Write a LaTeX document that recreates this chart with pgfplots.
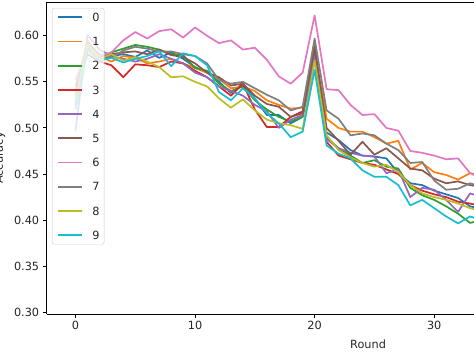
\documentclass[border=0pt]{standalone}
\usepackage{fontspec}
\setmainfont{DejaVu Sans}
\usepackage{pgfplots}
\usepackage{pgfplotstable}
\pgfplotsset{compat=1.18}
\definecolor{c0}{HTML}{1F77B4}
\definecolor{c1}{HTML}{FF7F0E}
\definecolor{c2}{HTML}{2CA02C}
\definecolor{c3}{HTML}{D62728}
\definecolor{c4}{HTML}{9467BD}
\definecolor{c5}{HTML}{8C564B}
\definecolor{c6}{HTML}{E377C2}
\definecolor{c7}{HTML}{7F7F7F}
\definecolor{c8}{HTML}{BCBD22}
\definecolor{c9}{HTML}{17BECF}
\pgfplotstableread{
r  s0    s1    s2    s3    s4    s5    s6    s7    s8    s9
0  0.525 0.540 0.530 0.539 0.497 0.545 0.552 0.535 0.530 0.520
1  0.590 0.595 0.588 0.580 0.601 0.585 0.585 0.592 0.590 0.585
2  0.575 0.578 0.575 0.572 0.585 0.577 0.578 0.580 0.575 0.573
3  0.578 0.572 0.582 0.568 0.578 0.580 0.582 0.576 0.580 0.576
4  0.580 0.578 0.586 0.555 0.575 0.582 0.595 0.584 0.573 0.571
5  0.577 0.576 0.590 0.569 0.572 0.583 0.604 0.588 0.577 0.575
6  0.584 0.570 0.588 0.568 0.575 0.580 0.597 0.586 0.572 0.578
7  0.576 0.572 0.585 0.566 0.580 0.585 0.605 0.583 0.566 0.583
8  0.582 0.575 0.580 0.572 0.575 0.579 0.607 0.583 0.555 0.567
9  0.575 0.570 0.579 0.570 0.570 0.577 0.598 0.580 0.556 0.581
10 0.566 0.565 0.565 0.562 0.560 0.570 0.609 0.578 0.550 0.578
11 0.560 0.560 0.562 0.555 0.555 0.560 0.600 0.570 0.545 0.568
12 0.550 0.553 0.548 0.545 0.545 0.555 0.592 0.552 0.532 0.539
13 0.538 0.543 0.540 0.535 0.540 0.546 0.595 0.548 0.522 0.530
14 0.548 0.545 0.545 0.548 0.535 0.548 0.585 0.550 0.531 0.543
15 0.532 0.540 0.530 0.520 0.525 0.535 0.587 0.543 0.519 0.532
16 0.514 0.530 0.520 0.501 0.518 0.526 0.574 0.536 0.509 0.516
17 0.514 0.525 0.512 0.501 0.500 0.523 0.556 0.530 0.505 0.505
18 0.505 0.521 0.507 0.512 0.509 0.512 0.548 0.519 0.503 0.490
19 0.512 0.522 0.512 0.518 0.514 0.516 0.560 0.523 0.499 0.496
20 0.575 0.585 0.590 0.580 0.578 0.588 0.622 0.597 0.573 0.563
21 0.495 0.510 0.490 0.485 0.488 0.500 0.542 0.519 0.492 0.481
22 0.487 0.500 0.478 0.470 0.478 0.486 0.541 0.510 0.476 0.472
23 0.476 0.496 0.470 0.466 0.473 0.471 0.525 0.492 0.468 0.467
24 0.470 0.496 0.462 0.462 0.470 0.485 0.514 0.494 0.462 0.454
25 0.469 0.490 0.465 0.460 0.469 0.471 0.515 0.492 0.458 0.447
26 0.467 0.483 0.458 0.455 0.451 0.478 0.500 0.483 0.460 0.447
27 0.451 0.486 0.456 0.450 0.455 0.467 0.497 0.476 0.452 0.438
28 0.440 0.455 0.435 0.438 0.425 0.456 0.475 0.462 0.438 0.416
29 0.438 0.462 0.427 0.432 0.435 0.454 0.473 0.463 0.429 0.422
30 0.432 0.452 0.422 0.428 0.433 0.445 0.470 0.443 0.425 0.413
31 0.428 0.449 0.415 0.425 0.422 0.440 0.466 0.433 0.422 0.404
32 0.424 0.444 0.407 0.420 0.409 0.442 0.467 0.434 0.418 0.3965
33 0.415 0.451 0.397 0.418 0.429 0.438 0.451 0.440 0.413 0.404
34 0.412 0.448 0.400 0.415 0.425 0.436 0.445 0.436 0.410 0.400
}\data
\begin{document}
\begin{tikzpicture}
\begin{axis}[
  name=ax, at={(0,0)}, anchor=south west,
  scale only axis, width=427.3pt, height=312pt,
  xmin=-2.41, xmax=33.33, ymin=0.2982, ymax=0.6366,
  axis lines*=left,
  axis line style={line width=0.9pt, black},
  tick align=outside, major tick length=4pt,
  tick style={line width=0.9pt, black},
  xtick={0,10,20,30},
  ytick={0.30,0.35,0.40,0.45,0.50,0.55,0.60},
  yticklabel style={/pgf/number format/.cd, fixed, fixed zerofill, precision=2},
  /pgf/number format/assume math mode=true,
  tick label style={font=\fontsize{11.3}{13}\selectfont, text=black!85},
  label style={font=\fontsize{11.3}{13}\selectfont, text=black!85},
  xlabel={Round}, ylabel={Accuracy},
  xlabel style={at={(axis description cs:0.752,-0.1099)}, anchor=base},
  ylabel style={at={(axis description cs:-0.1023,0.5)}, anchor=base},
  every axis plot/.append style={line width=1.7pt, line join=round},
  legend cell align=left,
  legend image code/.code={\draw[#1, line width=1.7pt] (0pt,0pt) -- (24pt,0pt);},
  legend style={at={(axis description cs:0,1)}, anchor=north west,
    xshift=5.3pt, yshift=-6pt, draw=black!20, rounded corners=2pt,
    fill=white, fill opacity=0.8, text opacity=1, draw opacity=1,
    font=\fontsize{11.3}{13}\selectfont, text=black!85,
    inner xsep=4.5pt, inner ysep=5pt, row sep=16pt, column sep=10pt,
    nodes={inner sep=0pt, text height=8.2pt, text depth=0pt}},
]
\addplot[c0, line width=1.7pt] table[x=r,y=s0] {\data};
\addplot[c1, line width=1.7pt] table[x=r,y=s1] {\data};
\addplot[c2, line width=1.7pt] table[x=r,y=s2] {\data};
\addplot[c3, line width=1.7pt] table[x=r,y=s3] {\data};
\addplot[c4, line width=1.7pt] table[x=r,y=s4] {\data};
\addplot[c5, line width=1.7pt] table[x=r,y=s5] {\data};
\addplot[c6, line width=1.7pt] table[x=r,y=s6] {\data};
\addplot[c7, line width=1.7pt] table[x=r,y=s7] {\data};
\addplot[c8, line width=1.7pt] table[x=r,y=s8] {\data};
\addplot[c9, line width=1.7pt] table[x=r,y=s9] {\data};
\legend{0,1,2,3,4,5,6,7,8,9}
\end{axis}
\draw[line width=0.9pt, black] (ax.north west) -- (ax.north east);
\pgfresetboundingbox
\path[use as bounding box] (-46.7pt,-40pt) rectangle (427.3pt,314pt);
\end{tikzpicture}
\end{document}
